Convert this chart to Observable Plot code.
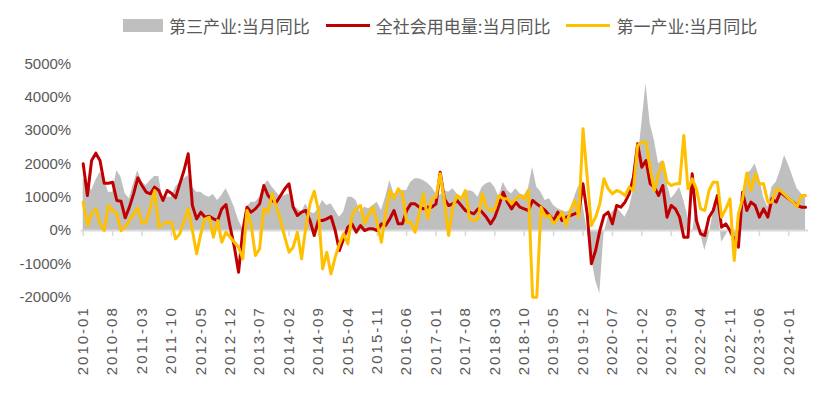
<!DOCTYPE html>
<html><head><meta charset="utf-8">
<script src="https://cdn.jsdelivr.net/npm/d3@7"></script>
<script src="https://cdn.jsdelivr.net/npm/@observablehq/plot@0.6"></script>
<style>
body{margin:0;background:#fff;}
#wrap{position:relative;width:831px;height:398px;overflow:hidden;}
#legend{position:absolute;left:123px;top:13px;display:flex;align-items:center;font-family:"Noto Sans CJK SC",sans-serif;font-size:17px;color:#595959;white-space:nowrap;z-index:2;}
.item{display:flex;align-items:center;margin-right:16px;}
.sw{display:inline-block;margin-right:6px;}
g[aria-label="x-axis tick label"] text{letter-spacing:2px;}
</style></head>
<body><div id="wrap"><div id="legend"></div></div>
<script>
const startYear = 2010, startMonth = 1;
const seriesNames = ["第三产业:当月同比", "全社会用电量:当月同比", "第一产业:当月同比"];
const seriesColors = ["#bfbfbf", "#c00000", "#ffc000"];
// 第三产业:当月同比
const tertiary = [1550,1400,1200,1500,1750,1550,1150,1150,1800,1600,1100,950,1400,1800,1450,1350,1500,1620,1620,900,
1000,1000,1300,1450,1550,1650,1300,1150,1150,1050,1000,1080,900,1050,1250,1000,700,300,50,700,
850,850,1000,1350,1500,1300,1150,1000,1050,1100,750,650,550,800,550,500,650,900,750,800,
600,400,550,1000,1000,900,550,700,650,750,850,600,1000,1500,1100,1150,1200,1200,1450,1550,
1550,1500,1420,1300,1100,1050,1200,1150,1250,1100,1000,1150,1200,1150,1000,1300,1400,1450,1300,1000,
1450,1200,1100,1250,1100,1050,1250,1900,1300,1150,900,950,750,650,600,550,600,1000,1350,750,
0,-800,-1500,-1900,-100,400,550,700,550,400,650,1200,2000,3200,4400,3200,2700,2000,2100,1400,
950,1100,1300,900,400,-100,700,-100,-600,-150,550,900,-350,-150,100,-100,-500,500,1700,1800,
2000,1600,1000,700,1300,1450,1800,2250,1950,1600,1250,1100,1000];
// 全社会用电量:当月同比
const total = [2000,1050,2100,2320,2100,1420,1420,1450,900,880,380,700,1100,1580,1350,1150,1100,1300,1200,900,
1200,1120,980,1400,1800,2300,750,350,550,400,430,350,300,650,780,100,-500,-1250,0,700,
550,650,800,1350,1050,900,850,1050,1250,1400,700,450,550,600,300,-150,300,300,350,420,
0,-600,-250,100,200,-50,150,0,50,50,0,200,150,350,600,200,200,600,800,800,
700,650,700,700,800,1750,950,750,800,900,750,600,550,500,650,550,400,200,400,750,
1150,850,650,850,700,650,600,900,800,700,600,450,300,550,300,400,450,500,550,1400,
500,-1000,-600,0,450,550,200,750,700,850,1100,1600,2600,1900,2100,1400,1300,1050,1350,400,
750,650,400,-200,-200,1700,300,-100,-150,400,600,1050,100,200,0,-250,-500,1150,600,850,
750,400,650,400,950,850,1150,1050,950,850,750,700,700];
// 第一产业:当月同比
const primary = [850,150,500,650,200,0,750,600,520,0,100,300,500,680,220,250,700,1200,100,200,
250,250,-250,-100,300,650,0,-700,-100,350,400,-200,300,-350,-50,-200,-350,-500,-850,600,
150,-750,-550,650,550,1100,700,300,-200,-650,-500,-50,-850,100,800,1180,600,-1150,-650,-1300,
-800,-400,-100,-400,450,650,750,200,500,700,200,-350,500,1200,950,1250,1100,250,250,-50,
500,1100,350,950,1000,1700,900,-150,700,1050,950,1200,350,300,350,1100,700,600,650,1050,
950,950,800,950,1050,950,1200,-2000,-2000,700,400,450,200,350,550,150,600,900,400,3050,
1600,150,400,800,1550,1250,1100,1200,1150,1050,1300,1200,2550,2650,2650,1850,1200,1700,2050,1450,
1350,1400,1400,2850,1250,1550,1250,650,600,1200,1450,1450,400,650,950,-900,500,950,1720,1200,
1700,1400,1400,850,850,1250,1200,1080,960,850,720,1050,1050];
const tickLabels = ["2010-01","2010-08","2011-03","2011-10","2012-05","2012-12","2013-07","2014-02","2014-09","2015-04","2015-11","2016-06","2017-01","2017-08","2018-03","2018-10","2019-05","2019-12","2020-07","2021-02","2021-09","2022-04","2022-11","2023-06","2024-01"];
const yTicks = [-2000,-1000,0,1000,2000,3000,4000,5000];

const months = tertiary.map((_, i) => {
  const m = startMonth - 1 + i;
  return `${startYear + Math.floor(m / 12)}-${String(m % 12 + 1).padStart(2, "0")}`;
});
const rows = months.map((m, i) => ({i, m, tertiary: tertiary[i], total: total[i], primary: primary[i]}));
const tickIdx = tickLabels.map(l => months.indexOf(l));

const plot = Plot.plot({
  width: 831, height: 398,
  marginLeft: 82.7, marginRight: 25.9, marginTop: 63.3, marginBottom: 101.3,
  style: {fontFamily: "'Liberation Sans', Arial, sans-serif", fontSize: "15px", color: "#595959", background: "#fff"},
  x: {type: "linear", domain: [0, months.length - 1]},
  y: {domain: [-2000, 5000]},
  marks: [
    Plot.areaY(rows, {x: "i", y: "tertiary", fill: seriesColors[0]}),
    Plot.ruleY([0], {stroke: "#d9d9d9", strokeWidth: 2, insetLeft: -2, insetRight: -3}),
    Plot.ruleX(tickIdx, {x: d => d, y1: 0, y2: -190, stroke: "#d9d9d9", strokeWidth: 1.5}),
    Plot.lineY(rows, {x: "i", y: "total", stroke: seriesColors[1], strokeWidth: 3}),
    Plot.lineY(rows, {x: "i", y: "primary", stroke: seriesColors[2], strokeWidth: 3}),
    Plot.axisY({ticks: yTicks, tickFormat: d => d + "%", tickSize: 0, tickPadding: 12, label: null}),
    Plot.axisX({ticks: tickIdx, tickFormat: d => months[d], tickRotate: -90, tickSize: 0, tickPadding: 9, label: null})
  ]
});
document.getElementById("wrap").appendChild(plot);

const legend = d3.select("#legend");
seriesNames.forEach((name, k) => {
  const it = legend.append("div").attr("class", "item");
  const sw = it.append("span").attr("class", "sw").style("background", seriesColors[k]);
  if (k === 0) sw.style("width", "40px").style("height", "13px");
  else sw.style("width", "44px").style("height", "3px");
  it.append("span").text(name);
});
</script>
</body></html>
